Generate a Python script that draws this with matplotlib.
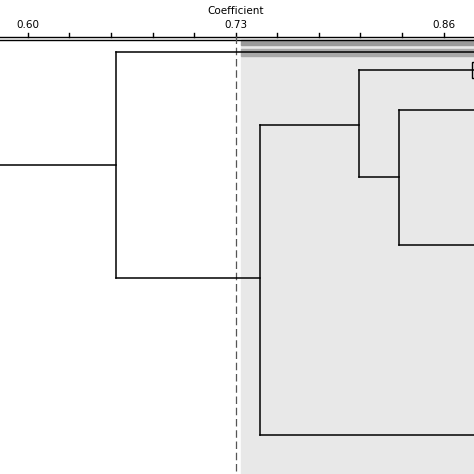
import matplotlib.pyplot as plt

# merge levels (coefficient) and row positions
root_level = 0.655
node_a = 0.745
node_b = 0.807
node_c = 0.832
x_right = 0.879
cut_level = 0.73
leaf_rows = {"top": 52, "b1": 70, "c1": 110, "c2": 245, "a2": 435}

fig = plt.figure(figsize=(4.74, 4.74), dpi=100)
ax = fig.add_axes([0, 0, 1, 1])
ax.set_xlim(0.5826, x_right)
ax.set_ylim(474, 0)
ax.axis("off")

lw = 1.1
k = "black"
# shaded region
ax.add_patch(plt.Rectangle((0.733, 40), 1, 440, color="#e8e8e8", zorder=0))
ax.add_patch(plt.Rectangle((0.733, 40), 1, 5, color="#9a9a9a", zorder=0))
ax.add_patch(plt.Rectangle((0.733, 49), 1, 7, color="#a8a8a8", zorder=0))

# axis line and ticks
ax.plot([0.5826, x_right], [37, 37], color=k, lw=1)
ax.plot([0.5826, x_right], [40, 40], color=k, lw=1)
for i in range(12):
    t = 0.60 + i * 0.026
    ax.plot([t, t], [33, 37], color=k, lw=1)
for t in [0.60, 0.73, 0.86]:
    ax.text(t, 30, f"{t:.2f}", ha="center", va="bottom", fontsize=7.5)
ax.text(0.73, 16, "Coefficient", ha="center", va="bottom", fontsize=7.5)

ax.plot([cut_level, cut_level], [36, 474], color="#555555", lw=0.9, ls=(0, (6, 3)))

# dendrogram
mid_a = (125 + leaf_rows["a2"]) / 2
mid_b = (leaf_rows["b1"] + 177) / 2
ax.plot([0.5826, root_level], [165, 165], color=k, lw=lw)
ax.plot([root_level, root_level], [leaf_rows["top"], 278], color=k, lw=lw)
ax.plot([root_level, x_right], [leaf_rows["top"], leaf_rows["top"]], color=k, lw=lw)
ax.plot([root_level, node_a], [278, 278], color=k, lw=lw)
ax.plot([node_a, node_a], [125, leaf_rows["a2"]], color=k, lw=lw)
ax.plot([node_a, node_b], [125, 125], color=k, lw=lw)
ax.plot([node_a, x_right], [leaf_rows["a2"]] * 2, color=k, lw=lw)
ax.plot([node_b, node_b], [leaf_rows["b1"], 177], color=k, lw=lw)
ax.plot([node_b, x_right], [leaf_rows["b1"]] * 2, color=k, lw=lw)
ax.plot([node_b, node_c], [177, 177], color=k, lw=lw)
ax.plot([node_c, node_c], [leaf_rows["c1"], leaf_rows["c2"]], color=k, lw=lw)
ax.plot([node_c, x_right], [leaf_rows["c1"]] * 2, color=k, lw=lw)
ax.plot([node_c, x_right], [leaf_rows["c2"]] * 2, color=k, lw=lw)
ax.add_patch(plt.Rectangle((0.8775, 62), 0.003, 16, fill=False, ec=k, lw=1))

fig.savefig("out.png", dpi=100)
